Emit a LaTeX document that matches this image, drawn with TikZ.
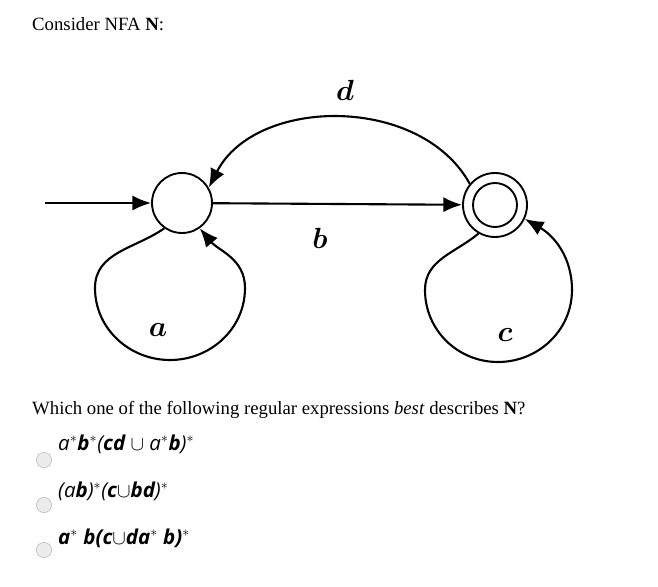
\documentclass[tikz,border=0pt]{standalone}
\usepackage{fontspec}
\setmainfont{Liberation Serif}
\newfontfamily\exprfont{Open Sans}
\usetikzlibrary{arrows.meta}
\begin{document}
\begin{tikzpicture}[x=0.03cm,y=-0.03cm,
  every node/.style={inner sep=0pt},
  state/.style={draw,circle,line width=1.6pt},
  trans/.style={draw,line width=1.8pt,-{Latex[length=16pt,width=13pt]}},
  lab/.style={font=\fontsize{30}{30}\selectfont\boldmath},
  txt/.style={anchor=west,font=\fontsize{16}{18}\selectfont},
  expr/.style={anchor=west,font=\exprfont\itshape\fontsize{17.5}{20}\selectfont},
  radio/.style={draw=gray!60,fill=gray!15,circle,minimum size=13pt}]
	\useasboundingbox (0,0) rectangle (658,587);
	%states placed by hand
	\node[state,minimum size=60*0.03cm] (q0) at (182,203){};
	\node[state,minimum size=64*0.03cm] (q1) at (495,205){};
	\node[state,minimum size=44*0.03cm] (q1in) at (495,205){};
	\coordinate (start) at (45,203);
	%% transitions
	\draw[trans] (start) -- (q0);
	\draw[trans] (q0) -- (q1);
	\draw[trans] (q1.140) to[bend right=62] (q0.30);
	\draw[trans] (q0.235) to[out=215,in=90] (95,288) to[out=270,in=180] (170,360)
		to[out=0,in=270] (245,288) to[out=90,in=-50] (q0.305);
	\draw[trans] (q1.240) to[out=220,in=90] (425,290) to[out=270,in=180] (498,362)
		to[out=0,in=270] (572,290) to[out=90,in=-30] (q1.335);
	%% labels
	\node[lab] (d) at (345,90){$d$};
	\node[lab] (b) at (320,238){$b$};
	\node[lab] (a) at (158,330){$a$};
	\node[lab] (c) at (505,335){$c$};
	%% text
	\node[txt] (title) at (32,24){Consider NFA \textbf{N}:};
	\node[txt] (question) at (32,410){Which one of the following regular expressions \textit{best} describes \textbf{N}?};
	\foreach \y [count=\i] in {460,505,550}{
		\node[radio] (r\i) at (44,\y){};
	}
	\node[expr] (e1) at (58,444){a$^{*}$\textbf{b}$^{*}$(\textbf{cd} $\cup$ a$^{*}$\textbf{b})$^{*}$};
	\node[expr] (e2) at (58,491){(a\textbf{b})$^{*}$(\textbf{c}$\cup$\textbf{bd})$^{*}$};
	\node[expr,font=\exprfont\itshape\bfseries\fontsize{17.5}{20}\selectfont] (e3) at (58,538){a$^{*}$ b(c$\cup$da$^{*}$ b)$^{*}$};
\end{tikzpicture}
\end{document}
